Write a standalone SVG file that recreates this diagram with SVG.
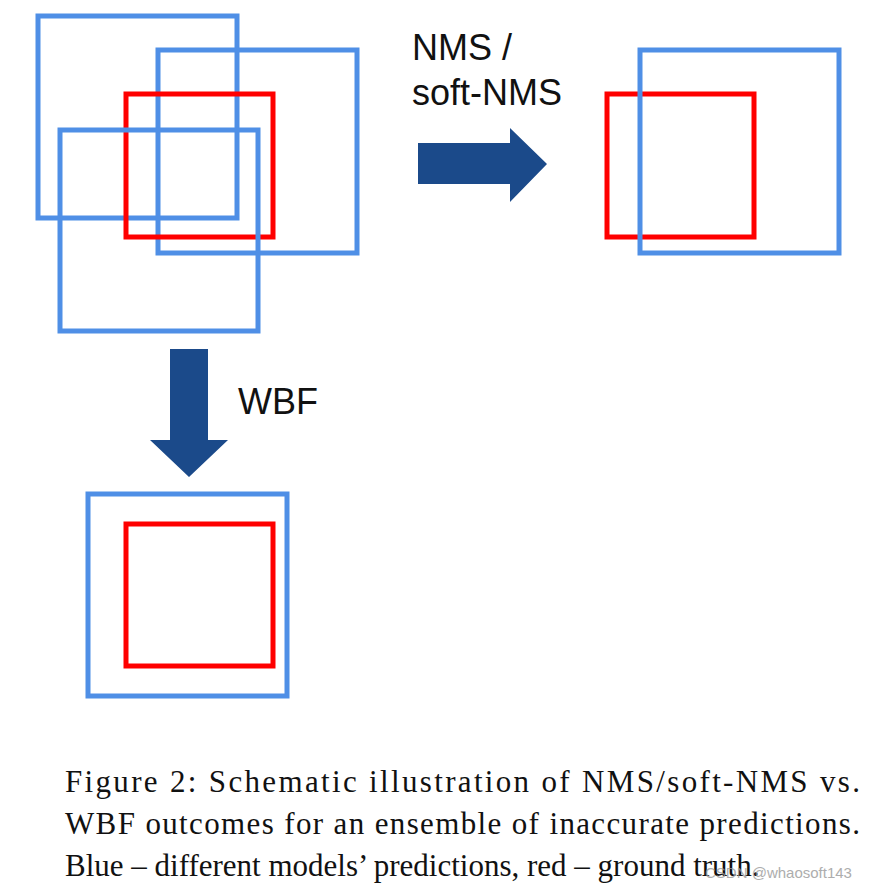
<svg xmlns="http://www.w3.org/2000/svg" width="879" height="889" viewBox="0 0 879 889">
<style>
.b{fill:none;stroke:#4f8fe6;stroke-width:5}
.r{fill:none;stroke:#ff0000;stroke-width:5}
.a{fill:#1b4a8a}
.t{font-family:"Liberation Sans",Arial,sans-serif;font-size:36px;fill:#111}
.c{font-family:"Liberation Serif","Times New Roman",serif;font-size:31px;fill:#111}
</style>
<rect width="879" height="889" fill="#fff"/>
<g id="input">
<rect class="b" x="38" y="16" width="199" height="202"/>
<rect class="b" x="158" y="50" width="199" height="203"/>
<rect class="r" x="126" y="94" width="147" height="143"/>
<rect class="b" x="60" y="130" width="198" height="201"/>
</g>
<g id="nms">
<rect class="r" x="607" y="94" width="147" height="143"/>
<rect class="b" x="640" y="50" width="199" height="203"/>
</g>
<g id="wbf">
<rect class="b" x="88" y="494" width="199" height="202"/>
<rect class="r" x="126" y="524" width="147" height="142"/>
</g>
<g id="connectors">
<polygon class="a" points="418,143 510,143 510,128 547,164 510,202 510,184 418,184"/>
<polygon class="a" points="170,349 208,349 208,440 228,440 189,477 150,440 170,440"/>
</g>
<text class="t" x="412" y="60">NMS /</text>
<text class="t" x="412" y="105">soft-NMS</text>
<text class="t" x="238" y="414">WBF</text>
<text class="c" x="65" y="792" textLength="795" lengthAdjust="spacing">Figure 2:  Schematic illustration of NMS/soft-NMS vs.</text>
<text class="c" x="65" y="834" textLength="795" lengthAdjust="spacing">WBF outcomes for an ensemble of inaccurate predictions.</text>
<text class="c" x="65" y="876">Blue – different models’ predictions, red – ground truth.</text>
<text x="705" y="878" font-family="Liberation Sans,Arial,sans-serif" font-size="15" fill="#999" opacity="0.8">CSDN @whaosoft143</text>
</svg>
